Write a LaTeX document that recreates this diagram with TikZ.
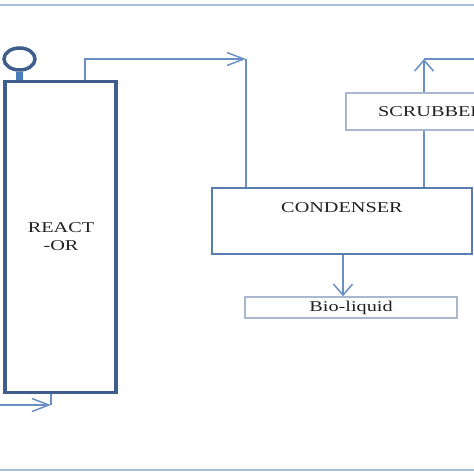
\documentclass[tikz,border=0pt]{standalone}
\usepackage{fontspec}
\setmainfont{Liberation Serif}
\usetikzlibrary{arrows.meta,shapes.geometric}
\definecolor{darkframe}{HTML}{3F5E8E}
\definecolor{stemblue}{HTML}{4A7EBB}
\definecolor{flow}{HTML}{6A8FC2}
\definecolor{condframe}{HTML}{5A7DB0}
\definecolor{lightframe}{HTML}{A9B8CE}
\definecolor{rule}{HTML}{A9BFDA}
\definecolor{ink}{HTML}{222222}
\tikzset{
  lbl/.style={font=\fontsize{15bp}{17bp}\selectfont, text=ink, inner sep=0pt},
  reactorbox/.style={draw=darkframe, line width=3.5bp, fill=white, inner sep=0pt},
  condbox/.style={draw=condframe, line width=2.2bp, fill=white, inner sep=0pt},
  lightbox/.style={draw=lightframe, line width=1.5bp, fill=white, inner sep=0pt},
  flowline/.style={draw=flow, line width=1.5bp},
  harrow/.style={flowline, -{Straight Barb[length=17bp,width=13bp,line width=1.5bp]}},
  varrow/.style={flowline, -{Straight Barb[length=11bp,width=19bp,line width=1.5bp]}},
}
\newcommand{\stretched}[1]{\scalebox{1.35}[1]{#1}}
\begin{document}
\begin{tikzpicture}[x=1bp,y=-1bp]
\useasboundingbox (0,0) rectangle (474,474);
% frame rules
\coordinate (topl) at (-5,5); \coordinate (topr) at (480,5);
\coordinate (botl) at (-5,470); \coordinate (botr) at (480,470);
\draw[rule, line width=2bp] (topl) -- (topr);
\draw[rule, line width=2bp] (botl) -- (botr);
% reactor
\node[reactorbox, minimum width=111bp, minimum height=311bp] (reactor) at (60.5,237) {};
\node[lbl, align=center] (reactlabel) at (61,237) {\stretched{REACT}\\[1bp]\stretched{-OR}};
% vent on top
\node[ellipse, draw=darkframe, line width=3.5bp, minimum width=31bp, minimum height=22bp, inner sep=0pt] (vent) at (19.5,59) {};
\draw[stemblue, line width=7bp] (vent.south) -- (vent.south |- reactor.north);
% condenser
\node[condbox, minimum width=260bp, minimum height=66bp] (condenser) at (342,221) {};
\node[lbl] (condlabel) at (342,208) {\stretched{CONDENSER}};
% scrubber
\node[lightbox, minimum width=170bp, minimum height=37bp] (scrubber) at (431,111.5) {};
\node[lbl] (scrublabel) at (431,112) {\stretched{SCRUBBER}};
% bio-liquid
\node[lightbox, minimum width=212bp, minimum height=21bp] (bio) at (351,307.5) {};
\node[lbl] (biolabel) at (351,308) {\stretched{Bio-liquid}};
% vapour line reactor -> condenser
\coordinate (vapout) at (85,0);
\coordinate (corner1) at (246,59);
\draw[harrow] (vapout |- reactor.north) |- (corner1);
\draw[flowline] (corner1) -- (corner1 |- condenser.north);
% condenser -> bio-liquid
\coordinate (liqx) at (343,0);
\draw[varrow] (liqx |- condenser.south) -- (liqx |- bio.north);
% condenser -> scrubber -> out
\coordinate (gasx) at (424,0);
\coordinate (corner2) at (424,59);
\coordinate (gasout) at (480,59);
\draw[flowline] (gasx |- condenser.north) -- (gasx |- scrubber.south);
\draw[varrow] (gasx |- scrubber.north) -- (corner2);
\draw[flowline] (corner2) -- (gasout);
% inlet at bottom
\coordinate (inletstart) at (-5,405);
\coordinate (corner3) at (51,405);
\draw[harrow] (inletstart) -- (corner3);
\draw[flowline] (corner3) -- (corner3 |- reactor.south);
\end{tikzpicture}
\end{document}
